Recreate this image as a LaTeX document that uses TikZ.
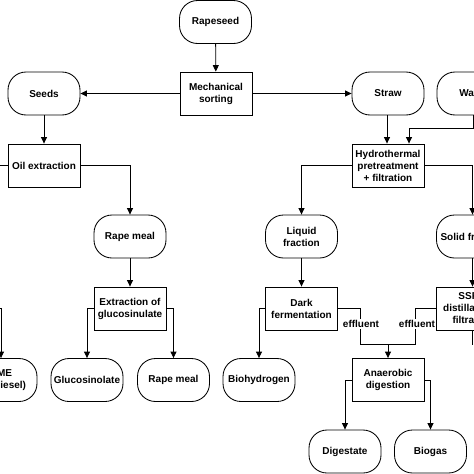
\documentclass[tikz,border=0pt]{standalone}
\usepackage{fontspec}
\setmainfont{Liberation Sans}
\usetikzlibrary{arrows.meta}
\begin{document}
\begin{tikzpicture}[x=1pt,y=-1pt,
  line width=0.85pt,
  term/.style={draw, rounded corners=18pt, minimum width=72pt, minimum height=43pt, align=center, font=\bfseries, inner sep=1pt},
  proc/.style={draw, minimum width=72pt, minimum height=43pt, align=center, font=\bfseries, inner sep=1pt},
  arr/.style={-{Triangle[length=6.5pt,width=6pt]}},
  lbl/.style={fill=white, font=\bfseries, inner sep=1pt}]
\useasboundingbox (0,0) rectangle (474,474);
\clip (0,0) rectangle (474,474);
% nodes
\node[term] (rapeseed) at (215.5,22) {Rapeseed};
\node[proc] (mech) at (216,93.5) {Mechanical\\sorting};
\node[term] (seeds) at (44,93.5) {Seeds};
\node[proc] (oil) at (44,165.5) {Oil extraction};
\node[term] (rape1) at (130,236.5) {Rape meal};
\node[proc] (extr) at (130,308.5) {Extraction of\\glucosinulate};
\node[term] (rme) at (1,380) {RME\\(biodiesel)};
\node[term] (gluc) at (87,380) {Glucosinolate};
\node[term] (rape2) at (173.5,380) {Rape meal};
\node[term] (bioh) at (259,380) {Biohydrogen};
\node[term] (straw) at (388,93.5) {Straw};
\node[term] (water) at (473,93.5) {Water};
\node[proc] (hydro) at (388,165.5) {Hydrothermal\\pretreatment\\+ filtration};
\node[term] (liquid) at (301.5,236.5) {Liquid\\fraction};
\node[term] (solid) at (472.5,236.5) {Solid fraction};
\node[proc] (dark) at (301.5,308.5) {Dark\\fermentation};
\node[proc] (ssf) at (472.5,308.5) {SSF +\\distillation +\\filtration};
\node[proc] (anaer) at (388,380) {Anaerobic\\digestion};
\node[term] (dig) at (345,451.5) {Digestate};
\node[term] (biogas) at (430.5,451.5) {Biogas};
% helper coordinates
\coordinate (oilout) at (-12,165.5);
\coordinate (rmein) at (-12,308.5);
\coordinate (hin) at ([xshift=21pt]hydro.north);
\coordinate (e1) at (360,344);
\coordinate (e2) at (415,344);
\coordinate (junc) at (388,344);
\coordinate (ssfout) at (472.5,345);
% connectors
\draw[arr] (rapeseed) -- (mech);
\draw[arr] (mech) -- (seeds);
\draw[arr] (mech) -- (straw);
\draw[arr] (seeds) -- (oil);
\draw[arr] (oil.east) -| (rape1.north);
\draw (oil.west) -- (oilout);
\draw[arr] (rmein) -| (rme.north);
\draw[arr] (rape1) -- (extr);
\draw[arr] (extr.west) -| (gluc.north);
\draw[arr] (extr.east) -| (rape2.north);
\draw[arr] ([xshift=-1pt]straw.south) -- ([xshift=-1pt]hydro.north);
\draw[arr] (water.south) |- ([yshift=15pt]hin) -- (hin);
\draw[arr] (hydro.west) -| (liquid.north);
\draw[arr] (hydro.east) -| (solid.north);
\draw[arr] (liquid) -- (dark);
\draw[arr] (solid) -- (ssf);
\draw[arr] (dark.west) -| (bioh.north);
\draw (dark.east) -| (e1) -- (e2) |- (ssf.west);
\draw[arr] (junc) -- (anaer.north);
\draw (ssf.south) -- (ssfout);
\draw[arr] (anaer.west) -| (dig.north);
\draw[arr] (anaer.east) -| (biogas.north);
% labels
\node[lbl] (eff1) at (361,324) {effluent};
\node[lbl] (eff2) at (417,324) {effluent};
\end{tikzpicture}
\end{document}
